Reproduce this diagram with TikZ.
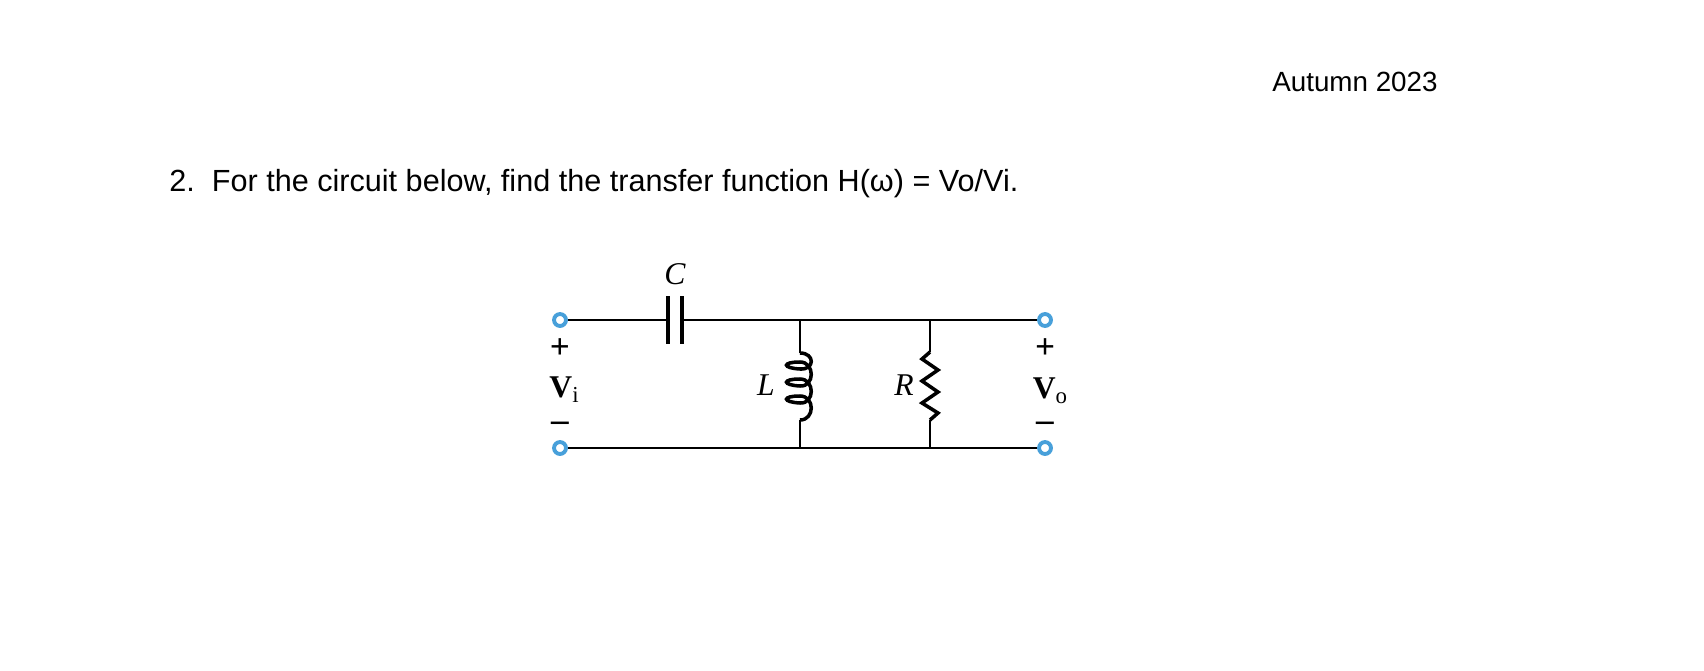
\documentclass[tikz,border=0pt]{standalone}
\usepackage{fontspec}
\newfontfamily\sansf{Liberation Sans}
\newfontfamily\serf{Liberation Serif}
\definecolor{term}{RGB}{72,160,218}
\newcommand{\subsm}[1]{\raisebox{-0.35ex}{\fontsize{6.5}{7}\selectfont #1}}
\begin{document}
\begin{tikzpicture}[x=0.01cm,y=-0.01cm,
  wire/.style={line width=0.75pt,black},
  tm/.style={circle,draw=term,line width=1.1pt,fill=white,minimum size=3.4pt,inner sep=0pt},
  lab/.style={font=\serf\fontsize{7.5}{8}\selectfont, inner sep=0pt}]
\useasboundingbox (0,0) rectangle (1704,670);
\node[font=\sansf\fontsize{7.9}{9}\selectfont,anchor=east] (yr) at (1450,82) {Autumn 2023};
\node[font=\sansf\fontsize{8.7}{10}\selectfont,anchor=west] (q) at (157,184) {2.\ \ For the circuit below, find the transfer function H(ω) = Vo/Vi.};
\coordinate (c1) at (668,320); \coordinate (c2) at (682,320);
\coordinate (ltop) at (800,320); \coordinate (lbot) at (800,448);
\coordinate (rtop) at (930,320); \coordinate (rbot) at (930,448);
\coordinate (l1) at (800,353); \coordinate (l2) at (800,420);
\coordinate (r1) at (930,352); \coordinate (r2) at (930,420);
\draw[wire] (560,320) -- (c1); \draw[wire] (c2) -- (1045,320);
\draw[wire] (560,448) -- (1045,448);
\node[tm] (a) at (560,320) {};
\node[tm] (b) at (560,448) {};
\node[tm] (o) at (1045,320) {};
\node[tm] (p) at (1045,448) {};
\draw[wire,line width=1pt] (668,296) -- (668,344) (682,296) -- (682,344);
\draw[wire] (ltop) -- (l1) (l2) -- (lbot);
\draw[wire,line width=1pt] (l1) .. controls (815,353) and (815,370) .. (800,369)
  .. controls (782,368) and (782,362) .. (800,362)
  .. controls (815,362) and (815,387) .. (800,386)
  .. controls (782,385) and (782,379) .. (800,379)
  .. controls (815,379) and (815,404) .. (800,403)
  .. controls (782,402) and (782,396) .. (800,396)
  .. controls (815,396) and (815,420) .. (l2);
\draw[wire] (rtop) -- (r1) (r2) -- (rbot);
\draw[wire,line width=1pt] (r1) -- (922,359) -- (938,370) -- (922,381) -- (938,392) -- (922,403) -- (938,413) -- (r2);
\node[lab,font=\serf\itshape\fontsize{9}{10}\selectfont] (cl) at (675,274) {C};
\node[lab,font=\serf\itshape\fontsize{9}{10}\selectfont] (ll) at (766,385) {L};
\node[lab,font=\serf\itshape\fontsize{9}{10}\selectfont] (rl) at (904,385) {R};
\node[lab,font=\serf\bfseries\fontsize{10}{10}\selectfont] (ap) at (560,349) {+};
\node[lab,font=\serf\fontsize{9}{10}\selectfont] (vi) at (564,390) {\textbf{V}\subsm{i}};
\node[lab,font=\serf\bfseries\fontsize{10}{10}\selectfont] (am) at (560,427) {–};
\node[lab,font=\serf\bfseries\fontsize{10}{10}\selectfont] (op) at (1045,349) {+};
\node[lab,font=\serf\fontsize{9}{10}\selectfont] (vo) at (1050,391) {\textbf{V}\subsm{o}};
\node[lab,font=\serf\bfseries\fontsize{10}{10}\selectfont] (om) at (1045,427) {–};
\end{tikzpicture}
\end{document}
